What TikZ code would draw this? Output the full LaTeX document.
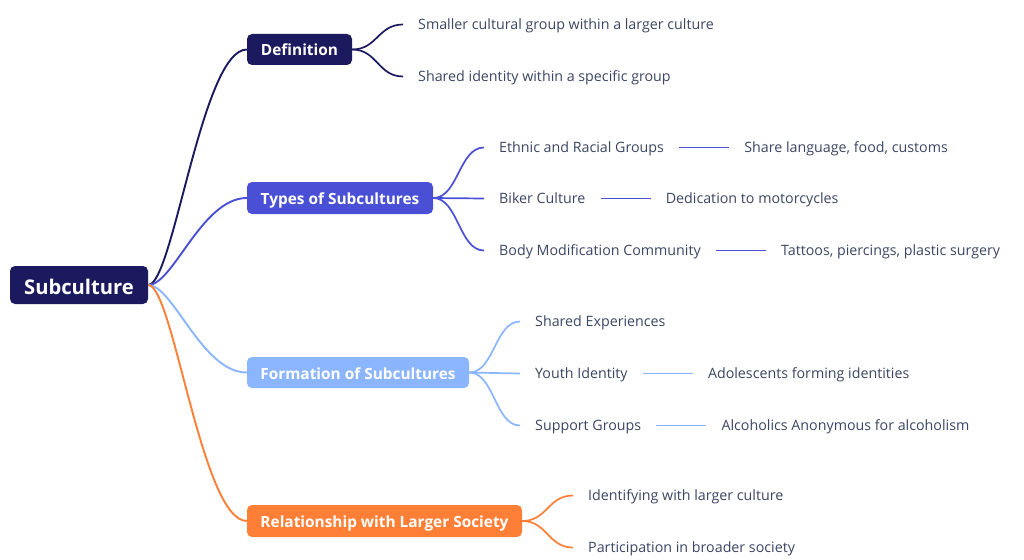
\documentclass[tikz,border=0pt]{standalone}
\usepackage{fontspec}
\setmainfont{Open Sans}
\definecolor{cnavy}{HTML}{1C1A5E}
\definecolor{cviolet}{HTML}{4A50D6}
\definecolor{clight}{HTML}{8BB5FF}
\definecolor{corange}{HTML}{FF7F36}
\definecolor{ctext}{HTML}{3B4663}
\begin{document}
\begin{tikzpicture}[x=1pt,y=-1pt,
  box/.style={rounded corners=5pt, inner sep=0pt, text=white, minimum height=32pt,
    text height=13pt, text depth=0pt,
    font=\bfseries\fontsize{15.4}{18}\selectfont},
  leaf/.style={inner xsep=15pt, inner ysep=2pt, text=ctext, anchor=west,
    text height=10.2pt, text depth=0pt,
    font=\fontsize{14.25}{17}\selectfont},
  branch/.style={line width=1.9pt},
  twig/.style={line width=1.7pt},
  bar/.style={line width=1.8pt}
]
\useasboundingbox (0,0) rectangle (1024,559);

% root
\node[box, fill=cnavy, minimum width=138pt, minimum height=38pt,
  text height=18pt, text depth=0pt, font=\bfseries\fontsize{20.2}{24}\selectfont] (root) at (79,285) {Subculture};

% main branches
\node[box, fill=cnavy, minimum width=105pt, minimum height=31pt] (def) at (299.5,49.5) {Definition};
\node[box, fill=cviolet, minimum width=186pt] (typ) at (340,198) {Types of Subcultures};
\node[box, fill=clight, minimum width=222pt, minimum height=31pt] (form) at (358,372.5) {Formation of Subcultures};
\node[box, fill=corange, minimum width=275pt] (rel) at (384.5,521) {Relationship with Larger Society};

\draw[branch, cnavy] (root.east) .. controls +(25,0) and +(-45,0) .. (def.west);
\draw[branch, cviolet] (root.east) .. controls +(25,0) and +(-45,0) .. (typ.west);
\draw[branch, clight] (root.east) .. controls +(25,0) and +(-45,0) .. (form.west);
\draw[branch, corange] (root.east) .. controls +(25,0) and +(-45,0) .. (rel.west);

% Definition leaves
\node[leaf] (d1) at (403,24.5) {Smaller cultural group within a larger culture};
\node[leaf] (d2) at (403,76.5) {Shared identity within a specific group};
\foreach \n in {d1,d2}
  \draw[twig, cnavy] (def.east) .. controls +(25,0) and +(-25,0) .. (\n.west);

% Types leaves
\node[leaf] (t1) at (484,147.5) {Ethnic and Racial Groups};
\node[leaf] (t2) at (484,198.5) {Biker Culture};
\node[leaf] (t3) at (484,250.5) {Body Modification Community};
\foreach \n in {t1,t2,t3}
  \draw[twig, cviolet] (typ.east) .. controls +(25,0) and +(-25,0) .. (\n.west);
\node[leaf] (t1a) at ([xshift=50pt]t1.east) {Share language, food, customs};
\node[leaf] (t2a) at ([xshift=50pt]t2.east) {Dedication to motorcycles};
\node[leaf] (t3a) at ([xshift=50pt]t3.east) {Tattoos, piercings, plastic surgery};
\draw[bar, cviolet] (t1.east) -- (t1a.west);
\draw[bar, cviolet] (t2.east) -- (t2a.west);
\draw[bar, cviolet] (t3.east) -- (t3a.west);

% Formation leaves
\node[leaf] (f1) at (520,321.5) {Shared Experiences};
\node[leaf] (f2) at (520,373.5) {Youth Identity};
\node[leaf] (f3) at (520,425.5) {Support Groups};
\foreach \n in {f1,f2,f3}
  \draw[twig, clight] (form.east) .. controls +(25,0) and +(-25,0) .. (\n.west);
\node[leaf] (f2a) at ([xshift=50pt]f2.east) {Adolescents forming identities};
\node[leaf] (f3a) at ([xshift=50pt]f3.east) {Alcoholics Anonymous for alcoholism};
\draw[bar, clight] (f2.east) -- (f2a.west);
\draw[bar, clight] (f3.east) -- (f3a.west);

% Relationship leaves
\node[leaf] (r1) at (573,495.5) {Identifying with larger culture};
\node[leaf] (r2) at (573,547.5) {Participation in broader society};
\foreach \n in {r1,r2}
  \draw[twig, corange] (rel.east) .. controls +(25,0) and +(-25,0) .. (\n.west);
\end{tikzpicture}
\end{document}
